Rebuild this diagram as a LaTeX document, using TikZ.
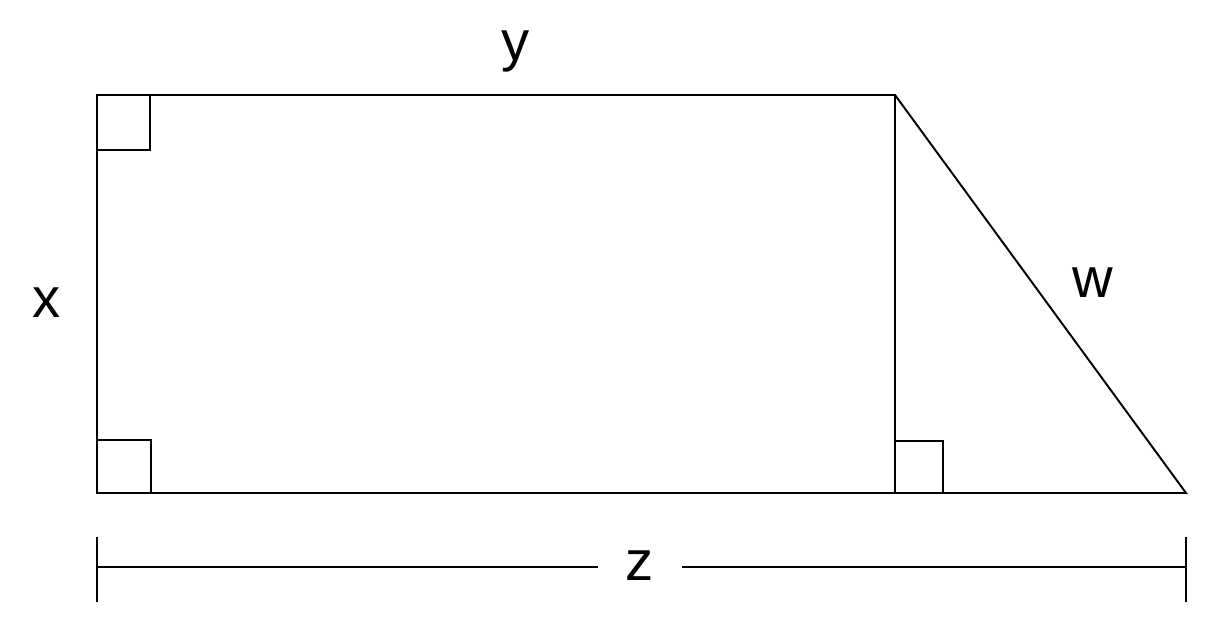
\documentclass[tikz,border=0pt]{standalone}
\usepackage{fontspec}
\setmainfont{Liberation Sans}
\tikzset{
  edge/.style={line width=1.1pt},
  lbl/.style={font=\fontsize{32}{38}\selectfont, inner sep=0pt}
}
\begin{document}
\begin{tikzpicture}
    \useasboundingbox (0,0) rectangle (24.64,12.62);
    \coordinate (BotLeft)  at (1.94,2.76);
    \coordinate (TopLeft)  at (1.94,10.72);
    \coordinate (TopRight) at (17.9,10.72);
    \coordinate (BotRight) at (17.9,2.76);
    \coordinate (Apex)     at (23.72,2.76);

    % outline and the inner side
    \draw[edge] (BotLeft) -- (TopLeft) -- (TopRight) -- (Apex) -- cycle;
    \draw[edge] (TopRight) -- (BotRight);

    % right angle marks
    \draw[edge] (1.94,9.62) -- (3.00,9.62) -- (3.00,10.72);
    \draw[edge] (1.94,3.82) -- (3.02,3.82) -- (3.02,2.76);
    \draw[edge] (17.9,3.80) -- (18.86,3.80) -- (18.86,2.76);

    % labels
    \node[lbl] (LabelY) at (10.32,11.60) {y};
    \node[lbl] (LabelX) at (0.94,6.56) {x};
    \node[lbl] (LabelW) at (21.86,6.96) {w};

    % dimension line below
    \coordinate (DimLeft)  at (1.94,1.28);
    \coordinate (DimRight) at (23.72,1.28);
    \node[lbl, inner xsep=0.55cm] (LabelZ) at (12.8,1.30) {z};
    \draw[edge] (1.94,1.88) -- (1.94,0.58);
    \draw[edge] (23.72,1.88) -- (23.72,0.58);
    \draw[edge] (DimLeft) -- (DimLeft -| LabelZ.west);
    \draw[edge] (DimRight -| LabelZ.east) -- (DimRight);
\end{tikzpicture}
\end{document}
